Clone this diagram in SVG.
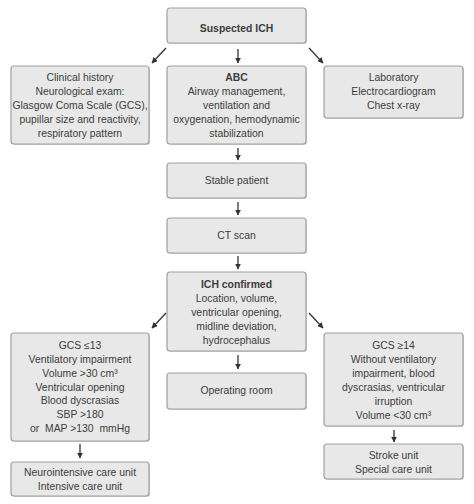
<svg xmlns="http://www.w3.org/2000/svg" width="474" height="504" viewBox="0 0 474 504">
<defs>
<marker id="ah" viewBox="0 0 10 10" refX="9" refY="5" markerWidth="6" markerHeight="6" markerUnits="userSpaceOnUse" orient="auto">
<path d="M0,0 L10,5 L0,10 z" fill="#333"/>
</marker>
</defs>
<style>
.box{fill:#e8e8e8;stroke:#a0a0a0;stroke-width:1.2}
.sh{fill:#d2d2d2}
text{font-family:"Liberation Sans",Arial,sans-serif;font-size:10.4px;fill:#3c3c3c;text-anchor:middle;white-space:pre}
.b{font-weight:bold}
.c line{stroke:#333;stroke-width:1.3;marker-end:url(#ah)}
</style>
<rect width="474" height="504" fill="#fff"/>
<g id="suspected">
<rect class="sh" x="168" y="9" width="139" height="35" rx="3"/>
<rect class="box" x="167" y="8" width="139" height="35" rx="3"/>
<text class="b" x="236.5" y="32">Suspected ICH</text>
</g>
<g id="clinical">
<rect class="sh" x="12" y="67" width="138" height="78" rx="3"/>
<rect class="box" x="11" y="66" width="138" height="78" rx="3"/>
<text x="80" y="81">Clinical history</text>
<text x="80" y="95">Neurological exam:</text>
<text x="80" y="109">Glasgow Coma Scale (GCS),</text>
<text x="80" y="123">pupillar size and reactivity,</text>
<text x="80" y="137">respiratory pattern</text>
</g>
<g id="abc">
<rect class="sh" x="168" y="67" width="139" height="78" rx="3"/>
<rect class="box" x="167" y="66" width="139" height="78" rx="3"/>
<text class="b" x="236.5" y="81">ABC</text>
<text x="236.5" y="95">Airway management,</text>
<text x="236.5" y="109">ventilation and</text>
<text x="236.5" y="123">oxygenation, hemodynamic</text>
<text x="236.5" y="137">stabilization</text>
</g>
<g id="lab">
<rect class="sh" x="325" y="67" width="139" height="52" rx="3"/>
<rect class="box" x="324" y="66" width="139" height="52" rx="3"/>
<text x="393.5" y="81">Laboratory</text>
<text x="393.5" y="95">Electrocardiogram</text>
<text x="393.5" y="109">Chest x-ray</text>
</g>
<g id="stable">
<rect class="sh" x="168" y="164" width="139" height="35" rx="3"/>
<rect class="box" x="167" y="163" width="139" height="35" rx="3"/>
<text x="236.5" y="184">Stable patient</text>
</g>
<g id="ct">
<rect class="sh" x="168" y="219" width="139" height="35" rx="3"/>
<rect class="box" x="167" y="218" width="139" height="35" rx="3"/>
<text x="236.5" y="239">CT scan</text>
</g>
<g id="confirmed">
<rect class="sh" x="168" y="273" width="139" height="79" rx="3"/>
<rect class="box" x="167" y="272" width="139" height="79" rx="3"/>
<text class="b" x="236.5" y="288">ICH confirmed</text>
<text x="236.5" y="302">Location, volume,</text>
<text x="236.5" y="316">ventricular opening,</text>
<text x="236.5" y="330">midline deviation,</text>
<text x="236.5" y="344">hydrocephalus</text>
</g>
<g id="gcs13">
<rect class="sh" x="12" y="334" width="138" height="108" rx="3"/>
<rect class="box" x="11" y="333" width="138" height="108" rx="3"/>
<text x="80" y="349">GCS ≤13</text>
<text x="80" y="363">Ventilatory impairment</text>
<text x="80" y="376.5">Volume &gt;30 cm³</text>
<text x="80" y="390.5">Ventricular opening</text>
<text x="80" y="404">Blood dyscrasias</text>
<text x="80" y="418">SBP &gt;180</text>
<text x="80" y="432">or  MAP &gt;130  mmHg</text>
</g>
<g id="operating">
<rect class="sh" x="168" y="374" width="139" height="36" rx="3"/>
<rect class="box" x="167" y="373" width="139" height="36" rx="3"/>
<text x="236.5" y="394">Operating room</text>
</g>
<g id="gcs14">
<rect class="sh" x="325" y="334" width="139" height="93" rx="3"/>
<rect class="box" x="324" y="333" width="139" height="93" rx="3"/>
<text x="393.5" y="349">GCS ≥14</text>
<text x="393.5" y="362.5">Without ventilatory</text>
<text x="393.5" y="376.5">impairment, blood</text>
<text x="393.5" y="390.5">dyscrasias, ventricular</text>
<text x="393.5" y="404.5">irruption</text>
<text x="393.5" y="418.5">Volume &lt;30 cm³</text>
</g>
<g id="neuro">
<rect class="sh" x="12" y="463" width="138" height="34" rx="3"/>
<rect class="box" x="11" y="462" width="138" height="34" rx="3"/>
<text x="80" y="476">Neurointensive care unit</text>
<text x="80" y="489.5">Intensive care unit</text>
</g>
<g id="stroke">
<rect class="sh" x="325" y="445" width="139" height="35" rx="3"/>
<rect class="box" x="324" y="444" width="139" height="35" rx="3"/>
<text x="393.5" y="459">Stroke unit</text>
<text x="393.5" y="472.5">Special care unit</text>
</g>
<g id="connectors" class="c">
<line x1="166" y1="48" x2="152" y2="63"/>
<line x1="238" y1="49" x2="238" y2="63"/>
<line x1="309" y1="48" x2="323" y2="63"/>
<line x1="238" y1="148" x2="238" y2="160"/>
<line x1="238" y1="202" x2="238" y2="215"/>
<line x1="238" y1="256" x2="238" y2="269"/>
<line x1="166" y1="313" x2="152" y2="328"/>
<line x1="309" y1="313" x2="323" y2="328"/>
<line x1="238" y1="355" x2="238" y2="369"/>
<line x1="80" y1="444" x2="80" y2="458"/>
<line x1="394" y1="430" x2="394" y2="442"/>
</g>
</svg>
